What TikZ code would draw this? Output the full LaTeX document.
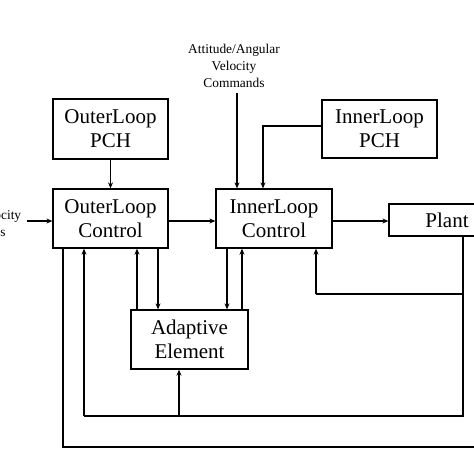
\documentclass[tikz,border=0pt]{standalone}
\usepackage{fontspec}
\setmainfont{Liberation Serif}
\usetikzlibrary{arrows.meta}
\begin{document}
\begin{tikzpicture}[x=1pt,y=-1pt,
  blk/.style={draw,line width=1.3pt,align=center,inner sep=0pt,
    font=\fontsize{21}{24}\selectfont},
  lbl/.style={align=center,inner sep=0pt,font=\fontsize{13.4}{17}\selectfont},
  con/.style={line width=1.3pt},
  arr/.style={line width=1.3pt,-{Stealth[length=6pt,width=5pt]}}]
\useasboundingbox (0,0) rectangle (474,474);
\node[blk,minimum width=115pt,minimum height=60pt] (opch) at (110.5,129) {OuterLoop\\PCH};
\node[blk,minimum width=115pt,minimum height=59pt] (oc) at (110.5,218.5) {OuterLoop\\Control};
\node[blk,minimum width=116pt,minimum height=59pt] (ic) at (274,218.5) {InnerLoop\\Control};
\node[blk,minimum width=115pt,minimum height=58pt] (ipch) at (379.5,129) {InnerLoop\\PCH};
\node[blk,minimum width=116pt,minimum height=32pt] (plant) at (447,220) {Plant};
\node[blk,minimum width=117pt,minimum height=59pt] (ae) at (189.5,339.5) {Adaptive\\Element};
\node[lbl] (att) at (234,66) {Attitude/Angular\\Velocity\\Commands};
\node[lbl] (pos) at (-25,223.5) {Position/Velocity\\Commands};
% inputs
\coordinate (inL) at (27,221);
\draw[arr] (inL) -- (inL -| oc.west);
\draw[arr] (237,93) coordinate (attS) -- (attS |- ic.north);
\coordinate (ip) at (263,126);
\draw[arr] (ip -| ipch.west) -- (ip) -- (ip |- ic.north);
\draw[arr] (opch.south) -- (oc.north);
\coordinate (m) at (0,221);
\draw[arr] (m -| oc.east) -- (m -| ic.west);
\draw[arr] (m -| ic.east) -- (m -| plant.west);
% adaptive links
\draw[arr] (158,0 |- oc.south) coordinate (a1) -- (a1 |- ae.north);
\draw[arr] (137,0 |- ae.north) coordinate (a2) -- (a2 |- oc.south);
\draw[arr] (227,0 |- ic.south) coordinate (a3) -- (a3 |- ae.north);
\draw[arr] (242,0 |- ae.north) coordinate (a4) -- (a4 |- ic.south);
% feedback
\coordinate (pf) at (463,0);
\coordinate (fb1) at (463,416);
\coordinate (fb2) at (84,416);
\coordinate (fb3) at (179,416);
\coordinate (fb4) at (463,294);
\coordinate (fb5) at (316,294);
\draw[con] (pf |- plant.south) -- (fb1) -- (fb2);
\draw[arr] (fb2) -- (fb2 |- oc.south);
\draw[arr] (fb3) -- (fb3 |- ae.south);
\draw[con] (fb4) -- (fb5);
\draw[arr] (fb5) -- (fb5 |- ic.south);
\coordinate (ob) at (63,447);
\coordinate (obR) at (480,447);
\draw[con] (ob |- oc.south) -- (ob) -- (obR);
\end{tikzpicture}
\end{document}
